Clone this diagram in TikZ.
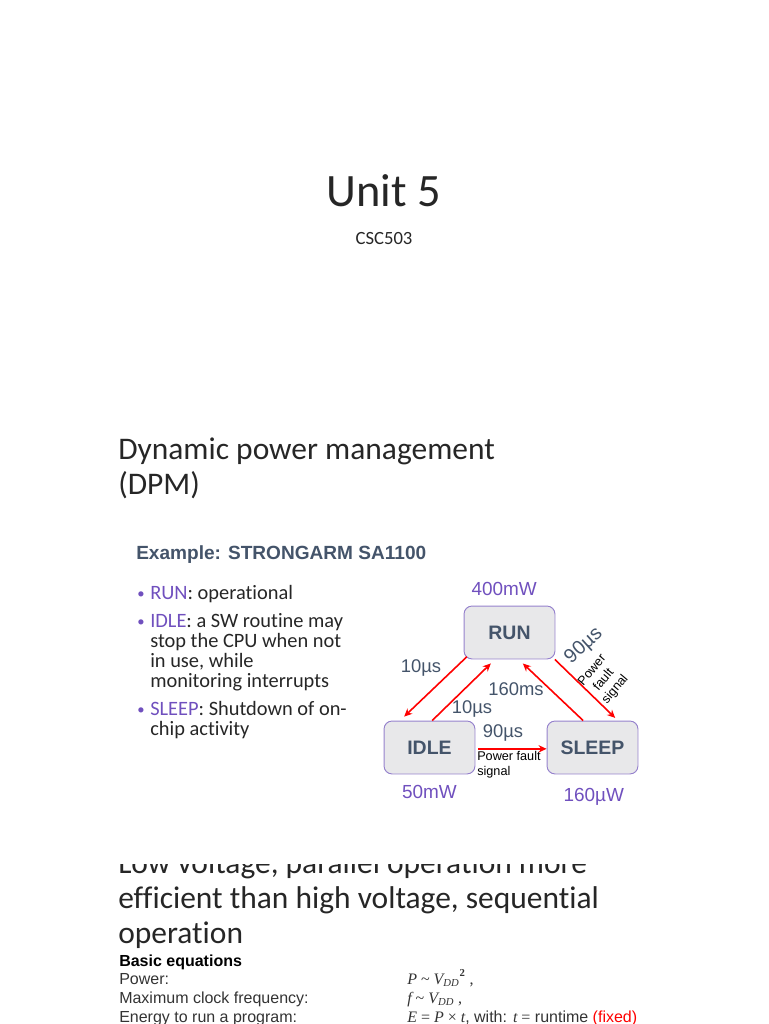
\documentclass[tikz,border=0pt]{standalone}
\usepackage{fontspec}
\usepackage{xcolor}
\usepackage{tikz}
\usetikzlibrary{arrows.meta, positioning}
\setmainfont[Ligatures=NoCommon]{Carlito}
\newfontfamily\arialfont{Liberation Sans}
\newfontfamily\eqfont{Liberation Serif}
\definecolor{mypurple}{RGB}{112, 80, 190}
\definecolor{myslate}{RGB}{68, 84, 106}
\definecolor{myfill}{RGB}{232, 232, 234}
\definecolor{myedge}{RGB}{150, 130, 205}
\newcommand{\pxsize}[2]{\fontsize{#1}{#2}\selectfont}
\tikzset{
    state/.style={draw=myedge, fill=myfill, rounded corners=6pt, line width=0.7pt,
        minimum width=68.2pt, minimum height=39.7pt, inner sep=0pt,
        text=myslate, font=\arialfont\bfseries\pxsize{14.6}{16}},
    trans/.style={draw=red, line width=1.2pt, -{Stealth[length=6pt, width=5.5pt]}},
    power/.style={text=mypurple, font=\arialfont\pxsize{14.2}{16}, inner sep=0pt},
    delay/.style={text=myslate, font=\arialfont\pxsize{13.8}{16}, inner sep=0pt},
    small/.style={text=black, font=\arialfont\pxsize{9.5}{11.2}, align=left, inner sep=0pt},
    slide/.style={anchor=base west, inner sep=0pt, align=left, text=black!85},
    head/.style={slide, font=\pxsize{23.6}{25.9}},
    bullet/.style={slide, font=\pxsize{15.3}{15}},
    dot/.style={slide, text=mypurple, font=\pxsize{11}{15}},
    eqn/.style={anchor=base west, inner sep=0pt, text=black!80, font=\arialfont\pxsize{12}{14}}
}
\begin{document}
\begin{tikzpicture}[x=0.75pt, y=-0.75pt]
    \useasboundingbox (0,0) rectangle (768,1024);

    % titel
    \node[anchor=base, inner sep=0pt, text=black!85, font=\pxsize{34.8}{36}] (title) at (384,206) {Unit 5};
    \node[anchor=base, inner sep=0pt, text=black!85, font=\pxsize{14}{14}] (course) at (384,244.5) {CSC503};

    % dpm kop
    \node[head] (dpm) at (118,494.5) {Dynamic power management\\(DPM)};
    \node[anchor=base west, inner sep=0pt, text=myslate, font=\arialfont\bfseries\pxsize{14.3}{16}] (example) at (136,559) {Example: STRONGARM SA1100};

    % opsomming
    \node[dot] (dota) at (137,598) {•};
    \node[dot] (dotb) at (137,626) {•};
    \node[dot] (dotc) at (137,714) {•};
    \node[bullet] (runtext) at (150,599) {\textcolor{mypurple}{RUN}: operational};
    \node[bullet] (idletext) at (150,687.5) {\textcolor{mypurple}{IDLE}: a SW routine may\\stop the CPU when not\\in use, while\\monitoring interrupts};
    \node[bullet] (sleeptext) at (150,735.5) {\textcolor{mypurple}{SLEEP}: Shutdown of on-\\chip activity};

    % toestanden
    \node[state] (run) at (509.5,632.5) {RUN};
    \node[state] (idle) at (429.5,747.5) {IDLE};
    \node[state] (sleep) at (592.5,747.5) {SLEEP};

    % overgangen
    \draw[trans] ([xshift=-32pt,yshift=2pt]run.south) -- ([xshift=-19pt,yshift=3pt]idle.north);
    \draw[trans] ([xshift=2pt]idle.north) -- ([xshift=-14pt,yshift=-3pt]run.south);
    \draw[trans] ([xshift=-7pt]sleep.north) -- ([xshift=10pt,yshift=-3pt]run.south);
    \draw[trans] ([xshift=34pt]run.south) -- ([xshift=17pt,yshift=2pt]sleep.north);
    \draw[trans] ([xshift=2pt,yshift=-1pt]idle.east) -- ([yshift=-1pt]sleep.west);

    % vermogen
    \node[power, above=7.5pt of run, xshift=-4pt] (runpower) {400mW};
    \node[power, below=8pt of idle] (idlepower) {50mW};
    \node[power, below=10pt of sleep, xshift=1pt] (sleeppower) {160µW};

    % vertraging
    \node[delay] (lbla) at (421,668) {10µs};
    \node[delay] (lblb) at (472,709) {10µs};
    \node[delay] (lblc) at (516,689) {160ms};
    \node[delay] (lbld) at (503,733) {90µs};
    \node[delay, rotate=42, font=\arialfont\pxsize{14.8}{16}] (lble) at (584,646) {90µs};

    % power fault
    \node[small, anchor=base west] (faulta) at (477,775) {Power fault\\signal};
    \node[small, rotate=50, align=center] (faultb) at (604,680) {Power\\fault\\signal};

    % onderste dia
    \begin{scope}
        \clip (0,864) rectangle (768,1024);
        \node[head] (low) at (118,943) {Low voltage, parallel operation more\\efficient than high voltage, sequential\\operation};
    \end{scope}
    \node[eqn, text=black, font=\arialfont\bfseries\pxsize{12}{14}] (basic) at (119,966) {Basic equations};
    \node[eqn] (eqa) at (119,984) {Power:};
    \node[eqn] (eqb) at (119,1003) {Maximum clock frequency:};
    \node[eqn] (eqc) at (119,1022.5) {Energy to run a program:};
    \node[eqn] (rhsa) at (407,984) {\eqfont\itshape P \upshape\textasciitilde{} \itshape V\textsubscript{DD}\upshape\raisebox{1pt}{\bfseries\textsuperscript{2}} ,};
    \node[eqn] (rhsb) at (407,1003) {\eqfont\itshape f \upshape\textasciitilde{} \itshape V\textsubscript{DD}\upshape\ ,};
    \node[eqn] (rhsc) at (407,1022.5) {{\eqfont\itshape E \upshape= \itshape P \upshape× \itshape t}, with: {\eqfont\itshape t \upshape=} runtime \textcolor{red}{(fixed)}};
\end{tikzpicture}
\end{document}
